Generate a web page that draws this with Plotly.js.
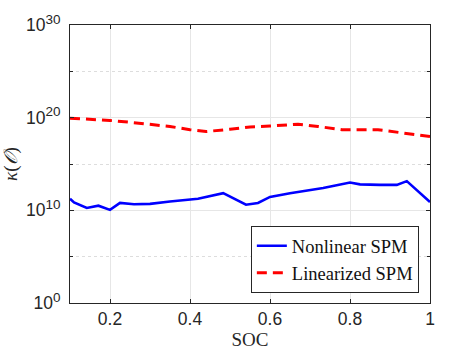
<!DOCTYPE html>
<html>
<head>
<meta charset="utf-8">
<script src="https://cdn.plot.ly/plotly-3.0.1.min.js"></script>
<style>html,body{margin:0;padding:0;background:#fff;}#chart{width:474px;height:356px;}</style>
</head>
<body>
<div id="chart"></div>
<script>
// SOC values and log10 of condition number
const socNonlinear = [0.1, 0.11, 0.142, 0.171, 0.2, 0.225, 0.26, 0.3, 0.35, 0.42, 0.483, 0.54, 0.57, 0.6, 0.65, 0.733, 0.8, 0.825, 0.875, 0.917, 0.942, 1.0];
const logKappaNonlinear = [11.25, 10.85, 10.25, 10.5, 10.05, 10.8, 10.65, 10.7, 10.95, 11.25, 11.85, 10.6, 10.8, 11.45, 11.85, 12.4, 13.0, 12.8, 12.75, 12.75, 13.15, 10.9];
const socLinearized = [0.1, 0.15, 0.2, 0.25, 0.3, 0.35, 0.4, 0.44, 0.5, 0.55, 0.6, 0.67, 0.72, 0.78, 0.87, 0.91, 1.0];
const logKappaLinearized = [19.95, 19.85, 19.7, 19.5, 19.3, 19.05, 18.7, 18.5, 18.75, 19.0, 19.1, 19.3, 19.05, 18.7, 18.7, 18.5, 17.97];
const seriesNames = ['Nonlinear SPM', 'Linearized SPM'];
const xTickVals = [0.2, 0.4, 0.6, 0.8, 1];
const xTickText = ['0.2', '0.4', '0.6', '0.8', '1'];
const yTickVals = [1, 1e10, 1e20, 1e30];
const yExponents = ['0', '10', '20', '30'];
const yMinorVals = [1e5, 1e15, 1e25];

const toPow = a => a.map(v => Math.pow(10, v));
const yTickText = yExponents.map(e => '10<sup><span style="font-size:13.5px">' + e + '</span></sup>');

const traces = [
  {x: socNonlinear, y: toPow(logKappaNonlinear), name: seriesNames[0], type: 'scatter', mode: 'lines',
   line: {color: '#0000ff', width: 2.6}},
  {x: socLinearized, y: toPow(logKappaLinearized), name: seriesNames[1], type: 'scatter', mode: 'lines',
   line: {color: '#ff0000', width: 3, dash: '10px,6px'}}
];

const axisCommon = {
  showline: true, linecolor: '#262626', linewidth: 1, mirror: 'ticks',
  ticks: 'inside', ticklen: 4, tickcolor: '#262626',
  showgrid: true, gridcolor: '#e6e6e6', gridwidth: 1, zeroline: false,
  tickfont: {family: 'Liberation Sans, Arial, sans-serif', size: 17.5, color: '#262626'}
};

const layout = {
  width: 474, height: 356,
  margin: {l: 70, r: 44, t: 25, b: 53},
  paper_bgcolor: '#ffffff', plot_bgcolor: '#ffffff',
  showlegend: true,
  xaxis: Object.assign({}, axisCommon, {
    range: [0.1, 1], tickmode: 'array', tickvals: xTickVals, ticktext: xTickText,
    title: {text: 'SOC', font: {family: 'Liberation Serif, Times New Roman, serif', size: 19, color: '#262626'}, standoff: 4}
  }),
  yaxis: Object.assign({}, axisCommon, {
    type: 'log', range: [0, 30], tickmode: 'array', tickvals: yTickVals, ticktext: yTickText,
    ticklabelstandoff: 5,
    minor: {tickmode: 'array', tickvals: yMinorVals, showgrid: true, gridcolor: '#dddddd', griddash: 'dot', ticks: 'inside', ticklen: 3, tickcolor: '#262626'},
    title: {text: '<i>κ</i>(<i>𝒪</i>)', font: {family: 'Liberation Serif, Times New Roman, serif', size: 19, color: '#262626'}, standoff: 6}
  }),
  legend: {
    x: 0.969, xanchor: 'right', y: 0.035, yanchor: 'bottom',
    bgcolor: '#ffffff', bordercolor: '#262626', borderwidth: 1,
    font: {family: 'Liberation Serif, Times New Roman, serif', size: 18.5, color: '#111111'},
    tracegroupgap: 0, itemwidth: 30
  }
};

Plotly.newPlot('chart', traces, layout, {displayModeBar: false, staticPlot: true});
</script>
</body>
</html>
